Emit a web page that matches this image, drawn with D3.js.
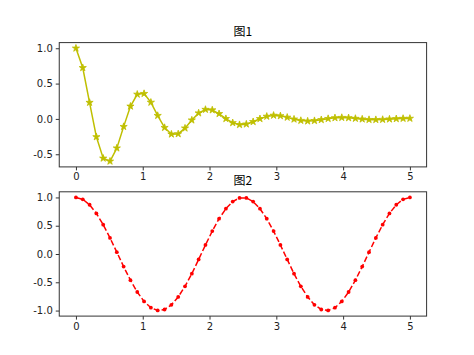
<!DOCTYPE html>
<html>
<head>
<meta charset="utf-8">
<script src="https://cdn.jsdelivr.net/npm/d3@7"></script>
<style>
  body { margin: 0; background: #fff; }
  svg text { font-family: "Noto Sans CJK SC", "DejaVu Sans", sans-serif; }
</style>
</head>
<body>
<div id="chart"></div>
<script>
// x samples, 50 points from 0 to 5
var xs = [0.000, 0.102, 0.204, 0.306, 0.408, 0.510, 0.612, 0.714, 0.816, 0.918,
          1.020, 1.122, 1.224, 1.327, 1.429, 1.531, 1.633, 1.735, 1.837, 1.939,
          2.041, 2.143, 2.245, 2.347, 2.449, 2.551, 2.653, 2.755, 2.857, 2.959,
          3.061, 3.163, 3.265, 3.367, 3.469, 3.571, 3.673, 3.776, 3.878, 3.980,
          4.082, 4.184, 4.286, 4.388, 4.490, 4.592, 4.694, 4.796, 4.898, 5.000];

// 图1 values
var y1 = [1.000, 0.724, 0.232, -0.254, -0.557, -0.599, -0.413, -0.109, 0.179, 0.348,
          0.358, 0.234, 0.047, -0.123, -0.216, -0.212, -0.131, -0.017, 0.083, 0.133,
          0.126, 0.073, 0.003, -0.055, -0.082, -0.074, -0.040, 0.002, 0.036, 0.050,
          0.043, 0.022, -0.004, -0.023, -0.031, -0.025, -0.012, 0.004, 0.015, 0.019,
          0.015, 0.006, -0.003, -0.010, -0.011, -0.009, -0.003, 0.002, 0.006, 0.007];

// 图2 values
var y2 = [1.000, 0.967, 0.871, 0.718, 0.518, 0.285, 0.032, -0.223, -0.463, -0.672,
          -0.838, -0.949, -0.998, -0.981, -0.899, -0.759, -0.572, -0.348, -0.096, 0.160,
          0.405, 0.624, 0.801, 0.927, 0.992, 0.992, 0.927, 0.801, 0.624, 0.405,
          0.160, -0.096, -0.348, -0.572, -0.759, -0.899, -0.981, -0.998, -0.949, -0.838,
          -0.672, -0.463, -0.223, 0.032, 0.285, 0.518, 0.718, 0.871, 0.967, 1.000];

var xTicks = [0, 1, 2, 3, 4, 5];
var yTicks1 = [-0.5, 0.0, 0.5, 1.0];
var yTicks2 = [-1.0, -0.5, 0.0, 0.5, 1.0];
var titles = ['图1', '图2'];

var width = 474, height = 355;
var left = 59.25, right = 426.6;
var panelH = 124.3, gap = 24.9, top0 = 42.6;

var svg = d3.select('#chart').append('svg')
    .attr('width', width)
    .attr('height', height);

var x = d3.scaleLinear().domain([-0.25, 5.25]).range([left, right]);

function padded(vals) {
    var lo = d3.min(vals), hi = d3.max(vals), p = (hi - lo) * 0.05;
    return [lo - p, hi + p];
}

function drawPanel(i, ys, yTicks, opts) {
    var top = top0 + i * (panelH + gap);
    var bottom = top + panelH;
    var y = d3.scaleLinear().domain(padded(ys)).range([bottom, top]);
    var g = svg.append('g');

    var pts = xs.map(function (d, k) { return [d, ys[k]]; });
    var line = d3.line()
        .x(function (d) { return x(d[0]); })
        .y(function (d) { return y(d[1]); });

    g.append('path')
        .datum(pts)
        .attr('d', line)
        .attr('fill', 'none')
        .attr('stroke', opts.color)
        .attr('stroke-width', 1.5)
        .attr('stroke-dasharray', opts.dash || null);

    if (opts.marker === 'star') {
        var star = d3.symbol().type(d3.symbolStar).size(16);
        g.selectAll('.mk').data(pts).enter()
            .append('path')
            .attr('d', star)
            .attr('transform', function (d) {
                return 'translate(' + x(d[0]) + ',' + y(d[1]) + ')';
            })
            .attr('fill', opts.color)
            .attr('stroke', opts.color)
            .attr('stroke-width', 0.8);
    } else {
        g.selectAll('.mk').data(pts).enter()
            .append('circle')
            .attr('cx', function (d) { return x(d[0]); })
            .attr('cy', function (d) { return y(d[1]); })
            .attr('r', 1.9)
            .attr('fill', opts.color);
    }

    // axes
    var xAxis = d3.axisBottom(x).tickValues(xTicks).tickSize(3.5).tickPadding(3)
        .tickFormat(d3.format('d'));
    var yAxis = d3.axisLeft(y).tickValues(yTicks).tickSize(3.5).tickPadding(3)
        .tickFormat(function (d) { return d3.format('.1f')(d).replace('−', '-'); });

    var ax = g.append('g').attr('transform', 'translate(0,' + bottom + ')').call(xAxis);
    var ay = g.append('g').attr('transform', 'translate(' + left + ',0)').call(yAxis);
    [ax, ay].forEach(function (a) {
        a.select('.domain').remove();
        a.selectAll('line').attr('stroke', '#000').attr('stroke-width', 0.8);
        a.selectAll('text').attr('fill', '#222').style('font-size', '10px')
            .style('font-family', '"DejaVu Sans", sans-serif');
    });

    g.append('rect')
        .attr('x', left).attr('y', top)
        .attr('width', right - left).attr('height', panelH)
        .attr('fill', 'none')
        .attr('stroke', '#333')
        .attr('stroke-width', 1);

    g.append('text')
        .attr('x', (left + right) / 2)
        .attr('y', top - 6.5)
        .attr('text-anchor', 'middle')
        .style('font-size', '12px')
        .text(titles[i]);
}

drawPanel(0, y1, yTicks1, { color: '#bfbf00', marker: 'star' });
drawPanel(1, y2, yTicks2, { color: '#ff0000', marker: 'dot', dash: '5.7,2.5' });
</script>
</body>
</html>
